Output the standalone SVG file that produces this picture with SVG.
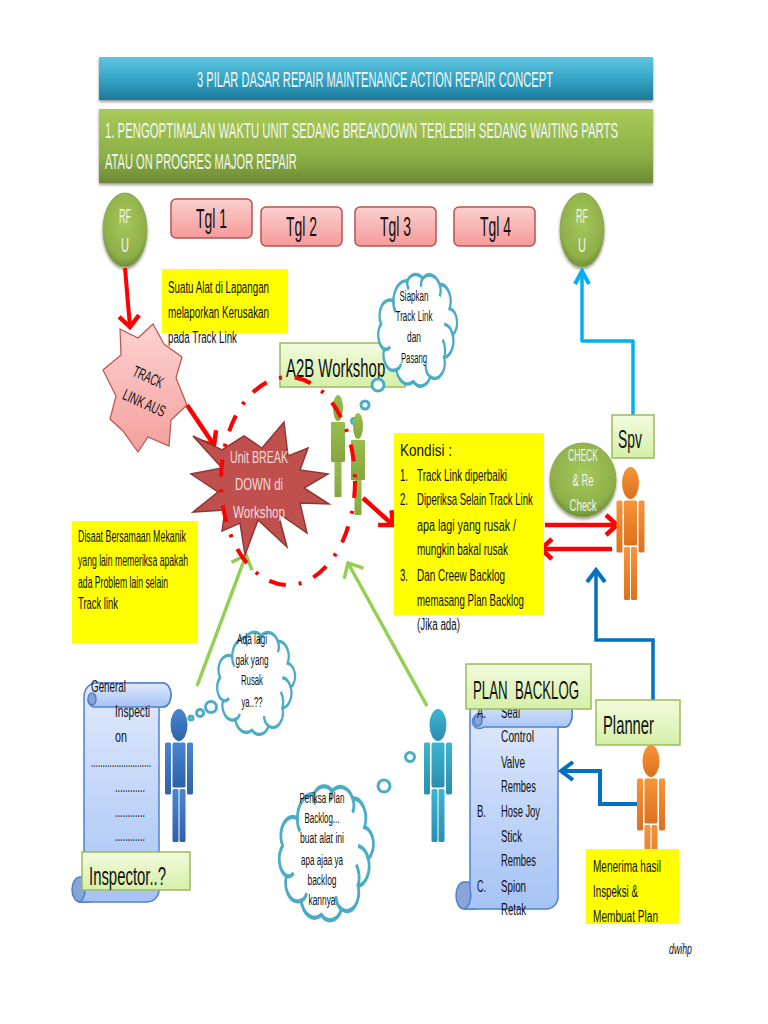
<svg xmlns="http://www.w3.org/2000/svg" width="768" height="1024" viewBox="0 0 768 1024">
<style>
text{font-family:"Liberation Sans",Arial,sans-serif;font-size:16px;fill:#111;white-space:pre}
.m{text-anchor:middle}
.w{fill:#F3F3EE}
.t{font-size:22px;fill:#F2F6F2}
.g{font-size:27px;fill:#111}
.l{font-size:26px;fill:#111}
.n{font-size:14px}
.r{font-size:20px;fill:#F3F3EE}
.x{font-size:17px;fill:#F2DCDB}
.c{fill:#fff;stroke:#4BACC6;stroke-width:3;vector-effect:non-scaling-stroke}
.ci{fill:none;stroke:#4BACC6;stroke-width:3;vector-effect:non-scaling-stroke}
.b{fill:#fff;stroke:#4BACC6;stroke-width:3}
.y{fill:#FFFF00}
.lb{fill:url(#gLabel);stroke:#9BBB59;stroke-width:1.5}
.tg{fill:url(#gPink);stroke:#C0504D;stroke-width:1.5}
.rf{fill:url(#gOrb);stroke:#8AA84F;stroke-width:1;filter:url(#sh)}
.s{fill:url(#gScroll);stroke:#4F81CF;stroke-width:1.5}
.sr{fill:#8AA5D5;stroke:#4F81CF;stroke-width:1.5}
</style>
<defs>
<linearGradient id="gTitle" x1="0" y1="0" x2="0" y2="1"><stop offset="0" stop-color="#5CC6E2"/><stop offset=".6" stop-color="#2F9DBF"/><stop offset="1" stop-color="#1C7A98"/></linearGradient>
<linearGradient id="gBar" x1="0" y1="0" x2="0" y2="1"><stop offset="0" stop-color="#A9CB5A"/><stop offset=".65" stop-color="#8BAE45"/><stop offset="1" stop-color="#6C8A34"/></linearGradient>
<linearGradient id="gPink" x1="0" y1="0" x2="0" y2="1"><stop offset="0" stop-color="#FBD0CF"/><stop offset="1" stop-color="#F59A98"/></linearGradient>
<linearGradient id="gLabel" x1="0" y1="0" x2="0" y2="1"><stop offset="0" stop-color="#F2FBDE"/><stop offset="1" stop-color="#D5EFA8"/></linearGradient>
<radialGradient id="gOrb" cx=".5" cy=".4" r=".6"><stop offset="0" stop-color="#A4C85A"/><stop offset=".8" stop-color="#8FB04A"/><stop offset="1" stop-color="#6F8C38"/></radialGradient>
<linearGradient id="gScroll" x1="0" y1="0" x2="0" y2="1"><stop offset="0" stop-color="#E0EAFB"/><stop offset="1" stop-color="#A6C3F5"/></linearGradient>
<linearGradient id="gStar" x1="0" y1="0" x2="0" y2="1"><stop offset="0" stop-color="#FCD2D0"/><stop offset="1" stop-color="#F4A09E"/></linearGradient>
<linearGradient id="pBlue" x1="0" y1="0" x2="0" y2="1"><stop offset="0" stop-color="#4A86CF"/><stop offset="1" stop-color="#2C62A8"/></linearGradient>
<linearGradient id="pTeal" x1="0" y1="0" x2="0" y2="1"><stop offset="0" stop-color="#3DB4D0"/><stop offset="1" stop-color="#2A8FAE"/></linearGradient>
<linearGradient id="pOrange" x1="0" y1="0" x2="0" y2="1"><stop offset="0" stop-color="#F79438"/><stop offset="1" stop-color="#DC711E"/></linearGradient>
<linearGradient id="pGreen" x1="0" y1="0" x2="0" y2="1"><stop offset="0" stop-color="#9ABD4E"/><stop offset="1" stop-color="#84A63E"/></linearGradient>
<filter id="sh" x="-10%" y="-20%" width="120%" height="150%"><feDropShadow dx="0" dy="2" stdDeviation="1.5" flood-color="#000" flood-opacity=".4"/></filter>
<marker id="mRed" markerUnits="userSpaceOnUse" markerWidth="30" markerHeight="30" refX="18" refY="12" orient="auto"><path d="M7 2 L18 12 L7 22" fill="none" stroke="#FF0000" stroke-width="4.5"/></marker>
<marker id="mGreen" markerUnits="userSpaceOnUse" markerWidth="30" markerHeight="30" refX="18" refY="12" orient="auto"><path d="M6 1 L18 12 L6 23" fill="none" stroke="#92D050" stroke-width="3.5"/></marker>
<marker id="mCyan" markerUnits="userSpaceOnUse" markerWidth="30" markerHeight="30" refX="18" refY="12" orient="auto"><path d="M5 5 L18 12 L5 19" fill="none" stroke="#00B0F0" stroke-width="4"/></marker>
<marker id="mBlue" markerUnits="userSpaceOnUse" markerWidth="30" markerHeight="30" refX="18" refY="12" orient="auto"><path d="M6 3 L18 12 L6 21" fill="none" stroke="#0070C0" stroke-width="4"/></marker>
<g id="person">
<ellipse cx="0" cy="0" rx="8.500" ry="16"/>
<rect x="-6.500" y="17.500" width="13" height="45" rx="1.500"/>
<rect x="-14" y="17.500" width="6" height="52" rx="1.500"/>
<rect x="8" y="17.500" width="6" height="52" rx="1.500"/>
<rect x="-6.500" y="64" width="6" height="53" rx="1.500"/>
<rect x="0.500" y="64" width="6" height="53" rx="1.500"/>
</g>
<g id="personThin">
<ellipse cx="0" cy="0" rx="5" ry="13"/>
<rect x="-7" y="14" width="14" height="40" rx="1"/>
<rect x="-3.500" y="54" width="7" height="35"/>
</g>
<path id="cloud" d="M20 26 A17 17 0 0 1 38 9 A14 14 0 0 1 58 7 A15 15 0 0 1 80 12 A14 14 0 0 1 93 32 A12 12 0 0 1 97 54 A14 14 0 0 1 86 73 A13 13 0 0 1 68 89 A14 14 0 0 1 46 93 A15 15 0 0 1 24 83 A13 13 0 0 1 8 66 A13 13 0 0 1 4 45 A13 13 0 0 1 20 26 Z"/>
<path id="cloudIn" d="M20 26 A12 12 0 0 0 23 35 M38 9 A8 8 0 0 0 40 16 M58 7 A8 8 0 0 0 56 14 M80 12 A10 10 0 0 1 80 22 M97 54 A14 14 0 0 0 86 45 M86 73 A16 16 0 0 0 84 58 M68 89 A10 10 0 0 1 62 80 M24 83 A8 8 0 0 0 30 78 M8 66 A10 10 0 0 0 16 64"/>
</defs>
<rect width="768" height="1024" fill="#fff"/>

<g id="title"><rect x="99" y="57" width="554" height="43" fill="url(#gTitle)" filter="url(#sh)"/><text class="t" transform="translate(197,87) scale(.51,1)" textLength="698" lengthAdjust="spacingAndGlyphs">3 PILAR DASAR REPAIR MAINTENANCE ACTION REPAIR CONCEPT</text></g>
<g id="subtitle"><rect x="99" y="109" width="554" height="74" fill="url(#gBar)" filter="url(#sh)"/>
<text class="t" transform="translate(105,138) scale(.513,1)" textLength="1000" lengthAdjust="spacingAndGlyphs">1. PENGOPTIMALAN WAKTU UNIT SEDANG BREAKDOWN TERLEBIH SEDANG WAITING PARTS</text>
<text class="t" transform="translate(105,169) scale(.513,1)" textLength="374" lengthAdjust="spacingAndGlyphs">ATAU ON PROGRES MAJOR REPAIR</text></g>

<g id="rfu-start"><ellipse class="rf" cx="125" cy="230" rx="22" ry="37"/><text class="m r" x="125" y="223" textLength="12" lengthAdjust="spacingAndGlyphs">RF</text><text class="m r" x="125" y="252" textLength="8" lengthAdjust="spacingAndGlyphs">U</text></g>
<g id="rfu-end"><ellipse class="rf" cx="582" cy="230" rx="22" ry="37"/><text class="m r" x="582" y="223" textLength="12" lengthAdjust="spacingAndGlyphs">RF</text><text class="m r" x="582" y="252" textLength="8" lengthAdjust="spacingAndGlyphs">U</text></g>

<g id="tgl1"><rect class="tg" x="171" y="199" width="81" height="39" rx="5"/><text class="g" x="196" y="228" textLength="31" lengthAdjust="spacingAndGlyphs">Tgl 1</text></g>
<g id="tgl2"><rect class="tg" x="261" y="207" width="81" height="39" rx="5"/><text class="g" x="286" y="236" textLength="31" lengthAdjust="spacingAndGlyphs">Tgl 2</text></g>
<g id="tgl3"><rect class="tg" x="355" y="207" width="81" height="39" rx="5"/><text class="g" x="380" y="236" textLength="31" lengthAdjust="spacingAndGlyphs">Tgl 3</text></g>
<g id="tgl4"><rect class="tg" x="454" y="207" width="81" height="39" rx="5"/><text class="g" x="480" y="236" textLength="31" lengthAdjust="spacingAndGlyphs">Tgl 4</text></g>

<g id="connectors">
<path d="M125 268 L130 327" stroke="#FF0000" stroke-width="4" marker-end="url(#mRed)" fill="none"/>
<path d="M187 405 L214 445" stroke="#FF0000" stroke-width="4.500" marker-end="url(#mRed)" fill="none"/>
<path d="M363 498 L393 525" stroke="#FF0000" stroke-width="4.500" marker-end="url(#mRed)" fill="none"/>
<path d="M545 525 L617 525" stroke="#FF0000" stroke-width="4.500" marker-end="url(#mRed)" fill="none"/>
<path d="M612 549 L541 549" stroke="#FF0000" stroke-width="4.500" marker-end="url(#mRed)" fill="none"/>
<path d="M197 686 L246 555" stroke="#92D050" stroke-width="3.500" marker-end="url(#mGreen)" fill="none"/>
<path d="M427 706 L348 563" stroke="#92D050" stroke-width="3.500" marker-end="url(#mGreen)" fill="none"/>
<path d="M633 415 L633 341 L582 341 L582 271" stroke="#00B0F0" stroke-width="3.500" stroke-linejoin="round" marker-end="url(#mCyan)" fill="none"/>
<path d="M653 700 L653 640 L596 640 L596 570" stroke="#0070C0" stroke-width="3.500" marker-end="url(#mBlue)" fill="none"/>
<path d="M638 804 L600 804 L600 771 L561 771" stroke="#0070C0" stroke-width="4" marker-end="url(#mBlue)" fill="none"/>
</g>

<g id="note-alat"><rect class="y" x="162" y="269" width="126" height="64"/>
<text x="168" y="293" textLength="101" lengthAdjust="spacingAndGlyphs">Suatu Alat di Lapangan</text>
<text x="168" y="318" textLength="101" lengthAdjust="spacingAndGlyphs">melaporkan Kerusakan</text>
<text x="168" y="343" textLength="69" lengthAdjust="spacingAndGlyphs">pada Track Link</text></g>

<g id="track-link-aus"><polygon points="120,329 138,338 153,324 164,344 182,357 176,378 187,405 171,420 169,446 148,437 138,452 123,431 110,419 116,396 103,370 121,355" fill="url(#gStar)" stroke="#C0504D" stroke-width="1.200"/>
<text class="m" transform="translate(146,382) rotate(24)" textLength="32" lengthAdjust="spacingAndGlyphs">TRACK</text>
<text class="m" transform="translate(142,408) rotate(24)" textLength="45" lengthAdjust="spacingAndGlyphs">LINK AUS</text></g>

<g id="unit-breakdown"><polygon points="193,436 222,450 244,436 262,448 284,422 288,456 308,448 300,470 328,474 304,488 329,504 300,503 307,533 278,513 287,547 258,520 245,555 240,523 222,531 225,510 193,512 218,492 191,474 222,468" fill="#C0504D" stroke="#8C3836" stroke-width="1.500"/>
<text class="m x" x="259" y="463" textLength="58" lengthAdjust="spacingAndGlyphs">Unit BREAK</text>
<text class="m x" x="259" y="490" textLength="48" lengthAdjust="spacingAndGlyphs">DOWN di</text>
<text class="m x" x="259" y="518" textLength="52" lengthAdjust="spacingAndGlyphs">Workshop</text></g>

<g id="a2b-workshop"><rect class="lb" x="280" y="343" width="125" height="44"/><text class="l" transform="translate(286,377) scale(.58,1)" textLength="171" lengthAdjust="spacingAndGlyphs">A2B Workshop</text></g>

<g id="cloud-siapkan">
<use href="#cloud" class="c" transform="translate(378,270) scale(.77,1.200)"/>
<use href="#cloudIn" class="ci" transform="translate(378,270) scale(.77,1.200)"/>
<circle class="b" cx="378" cy="385" r="6"/><circle class="b" cx="365" cy="405" r="4"/><circle class="b" cx="354" cy="421" r="2.500"/>
<text class="m n" x="414" y="301" textLength="29" lengthAdjust="spacingAndGlyphs">Siapkan</text>
<text class="m n" x="414" y="321" textLength="37" lengthAdjust="spacingAndGlyphs">Track Link</text>
<text class="m n" x="414" y="342" textLength="14" lengthAdjust="spacingAndGlyphs">dan</text>
<text class="m n" x="414" y="363" textLength="26" lengthAdjust="spacingAndGlyphs">Pasang</text></g>

<g id="mekanik-1"><use href="#personThin" fill="url(#pGreen)" transform="translate(338,408)"/></g>
<g id="mekanik-2"><use href="#personThin" fill="url(#pGreen)" transform="translate(358,426)"/></g>

<g id="note-kondisi"><rect class="y" x="394" y="433" width="150" height="182"/>
<text x="400" y="456" textLength="52" lengthAdjust="spacingAndGlyphs">Kondisi :</text>
<text x="400" y="481" textLength="8" lengthAdjust="spacingAndGlyphs">1.</text><text x="417" y="481" textLength="90" lengthAdjust="spacingAndGlyphs">Track Link diperbaiki</text>
<text x="400" y="505" textLength="8" lengthAdjust="spacingAndGlyphs">2.</text><text class="k" transform="translate(417,505) scale(.6,1)" textLength="193" lengthAdjust="spacingAndGlyphs">Diperiksa Selain Track Link</text>
<text x="417" y="531" textLength="99" lengthAdjust="spacingAndGlyphs">apa lagi yang rusak /</text>
<text x="417" y="555" textLength="91" lengthAdjust="spacingAndGlyphs">mungkin bakal rusak</text>
<text x="400" y="581" textLength="8" lengthAdjust="spacingAndGlyphs">3.</text><text x="417" y="581" textLength="88" lengthAdjust="spacingAndGlyphs">Dan Creew Backlog</text>
<text x="417" y="606" textLength="107" lengthAdjust="spacingAndGlyphs">memasang Plan Backlog</text>
<text x="417" y="630" textLength="43" lengthAdjust="spacingAndGlyphs">(Jika ada)</text></g>

<g id="check"><ellipse class="rf" cx="583" cy="480" rx="33" ry="37"/>
<text class="m w" x="583" y="461" textLength="30" lengthAdjust="spacingAndGlyphs">CHECK</text>
<text class="m w" x="583" y="486" textLength="21" lengthAdjust="spacingAndGlyphs">&amp; Re</text>
<text class="m w" x="583" y="511" textLength="27" lengthAdjust="spacingAndGlyphs">Check</text></g>

<g id="spv"><rect class="lb" x="612" y="415" width="42" height="43"/><text class="l" x="618" y="448" textLength="24" lengthAdjust="spacingAndGlyphs">Spv</text>
<use href="#person" fill="url(#pOrange)" transform="translate(630.500,483)"/></g>

<g id="note-disaat"><rect class="y" x="72" y="521" width="126" height="122"/>
<text x="78" y="542" textLength="108" lengthAdjust="spacingAndGlyphs">Disaat Bersamaan Mekanik</text>
<text x="78" y="566" textLength="110" lengthAdjust="spacingAndGlyphs">yang lain memeriksa apakah</text>
<text x="78" y="588" textLength="90" lengthAdjust="spacingAndGlyphs">ada Problem lain selain</text>
<text x="78" y="609" textLength="40" lengthAdjust="spacingAndGlyphs">Track link</text></g>

<g id="scroll-general">
<path class="sr" d="M84 877 H80 A8 12.500 0 0 0 80 902 H90 Z"/>
<path class="s" d="M84 697 A12 14 0 0 1 96 683 H163 A8 12 0 0 1 163 707 H159 V890 A12 12 0 0 1 147 902 H80 A8 12.500 0 0 0 84 885 Z"/>
<path class="s" d="M96 683 H163 A8 12 0 0 1 163 707 H95 A7 7 0 0 1 88 700"/>
<ellipse class="sr" cx="92" cy="699" rx="4" ry="6"/>
<text x="91" y="692" style="font-size:17px" textLength="35" lengthAdjust="spacingAndGlyphs">General</text>
<text x="115" y="717" style="font-size:17px" textLength="35" lengthAdjust="spacingAndGlyphs">Inspecti</text>
<text x="115" y="742" style="font-size:17px" textLength="12" lengthAdjust="spacingAndGlyphs">on</text>
<text x="91" y="767" textLength="60" lengthAdjust="spacingAndGlyphs">..........................</text>
<text x="115" y="792" textLength="30" lengthAdjust="spacingAndGlyphs">............</text>
<text x="115" y="817" textLength="30" lengthAdjust="spacingAndGlyphs">............</text>
<text x="115" y="841" textLength="30" lengthAdjust="spacingAndGlyphs">............</text></g>

<g id="inspector"><rect class="lb" x="82" y="852" width="108" height="38"/><text class="l" x="89" y="885" textLength="77" lengthAdjust="spacingAndGlyphs">Inspector..?</text>
<use href="#person" fill="url(#pBlue)" transform="translate(179,725)"/></g>

<g id="cloud-ada">
<use href="#cloud" class="c" transform="translate(217,628) scale(.76,1.100)"/>
<use href="#cloudIn" class="ci" transform="translate(217,628) scale(.76,1.100)"/>
<circle class="b" cx="211" cy="707" r="5.500"/><circle class="b" cx="200" cy="713" r="3.500"/><circle class="b" cx="191" cy="718" r="2"/>
<text class="m n" x="252" y="644" textLength="30" lengthAdjust="spacingAndGlyphs">Ada lagi</text>
<text class="m n" x="252" y="665" textLength="33" lengthAdjust="spacingAndGlyphs">gak yang</text>
<text class="m n" x="252" y="685" textLength="22" lengthAdjust="spacingAndGlyphs">Rusak</text>
<text class="m n" x="252" y="707" textLength="21" lengthAdjust="spacingAndGlyphs">ya..??</text></g>

<g id="cloud-periksa">
<use href="#cloud" class="c" transform="translate(279,781) scale(.92,1.440)"/>
<use href="#cloudIn" class="ci" transform="translate(279,781) scale(.92,1.440)"/>
<circle class="b" cx="384" cy="786" r="6"/><circle class="b" cx="410" cy="757" r="4.500"/>
<text class="m n" x="322" y="803" textLength="45" lengthAdjust="spacingAndGlyphs">Periksa Plan</text>
<text class="m n" x="322" y="823" textLength="35" lengthAdjust="spacingAndGlyphs">Backlog...</text>
<text class="m n" x="322" y="843" textLength="44" lengthAdjust="spacingAndGlyphs">buat alat ini</text>
<text class="m n" x="322" y="865" textLength="42" lengthAdjust="spacingAndGlyphs">apa ajaa ya</text>
<text class="m n" x="322" y="885" textLength="29" lengthAdjust="spacingAndGlyphs">backlog</text>
<text class="m n" x="322" y="905" textLength="27" lengthAdjust="spacingAndGlyphs">kannya</text></g>

<g id="backlog-checker"><use href="#person" fill="url(#pTeal)" transform="translate(438,725)"/></g>

<g id="scroll-backlog">
<path class="sr" d="M470 882 H464 A8 13.500 0 0 0 464 909 H476 Z"/>
<path class="s" d="M470 712 A12 12 0 0 1 482 700 H565 A7 13 0 0 1 565 727 H558 V897 A12 12 0 0 1 546 909 H464 A8 13.500 0 0 0 470 890 Z"/>
<path class="s" d="M482 700 H565 A7 13 0 0 1 565 727 H484 A7 7 0 0 1 475 716"/>
<ellipse class="sr" cx="478" cy="720" rx="4" ry="6"/>
<text x="477" y="718" textLength="9" lengthAdjust="spacingAndGlyphs">A.</text><text x="501" y="718" textLength="19" lengthAdjust="spacingAndGlyphs">Seal</text>
<text x="501" y="742" textLength="33" lengthAdjust="spacingAndGlyphs">Control</text>
<text x="501" y="768" textLength="24" lengthAdjust="spacingAndGlyphs">Valve</text>
<text x="501" y="792" textLength="35" lengthAdjust="spacingAndGlyphs">Rembes</text>
<text x="477" y="817" textLength="9" lengthAdjust="spacingAndGlyphs">B.</text><text x="501" y="817" textLength="39" lengthAdjust="spacingAndGlyphs">Hose Joy</text>
<text x="501" y="842" textLength="21" lengthAdjust="spacingAndGlyphs">Stick</text>
<text x="501" y="866" textLength="35" lengthAdjust="spacingAndGlyphs">Rembes</text>
<text x="477" y="892" textLength="9" lengthAdjust="spacingAndGlyphs">C.</text><text x="501" y="892" textLength="25" lengthAdjust="spacingAndGlyphs">Spion</text>
<text x="501" y="915" textLength="25" lengthAdjust="spacingAndGlyphs">Retak</text></g>

<g id="plan-backlog"><rect class="lb" x="466" y="664" width="125" height="45"/><text class="l" x="473" y="699" textLength="106" lengthAdjust="spacingAndGlyphs">PLAN  BACKLOG</text></g>

<g id="planner"><use href="#person" fill="url(#pOrange)" transform="translate(651,761)"/>
<rect class="lb" x="596" y="700" width="84" height="45"/><text class="l" x="603" y="734" textLength="51" lengthAdjust="spacingAndGlyphs">Planner</text></g>

<g id="note-menerima"><rect class="y" x="586" y="849" width="93" height="75"/>
<text x="593" y="872" textLength="68" lengthAdjust="spacingAndGlyphs">Menerima hasil</text>
<text x="593" y="897" textLength="45" lengthAdjust="spacingAndGlyphs">Inspeksi &amp;</text>
<text x="593" y="922" textLength="65" lengthAdjust="spacingAndGlyphs">Membuat Plan</text></g>

<g id="workshop-circle"><ellipse cx="288" cy="481" rx="67" ry="104" fill="none" stroke="#FF0000" stroke-width="4" stroke-dasharray="17 13 3 13"/></g>

<text x="669" y="954" style="font-size:14px;font-style:italic" textLength="23" lengthAdjust="spacingAndGlyphs">dwihp</text>
</svg>
